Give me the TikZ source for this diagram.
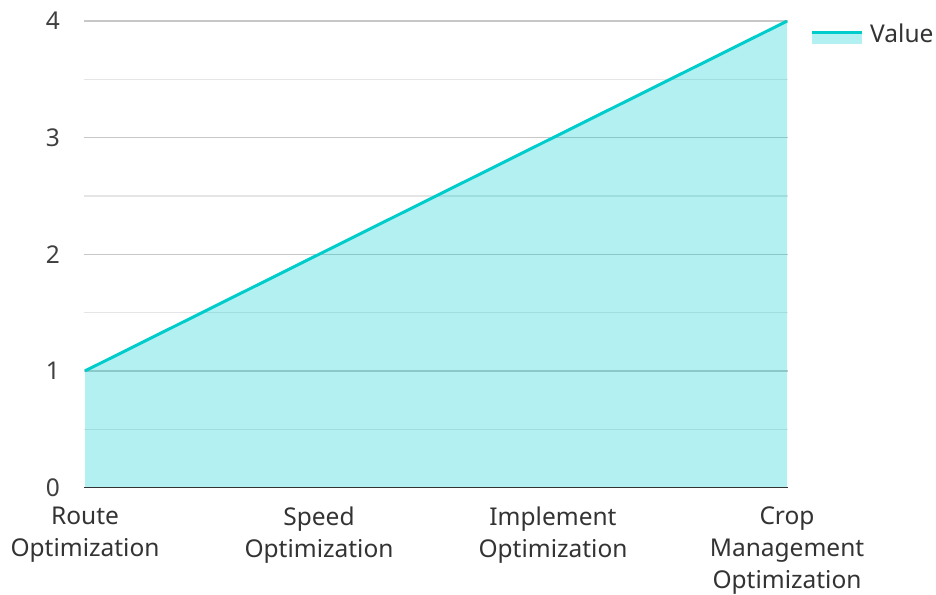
\documentclass[tikz,border=0pt]{standalone}
\usepackage{fontspec}
\setmainfont{Noto Sans}
\begin{document}
\begin{tikzpicture}[x=1pt,y=-1pt,
  ylab/.style={anchor=east,text=black!75,font=\fontsize{24.5}{29}\selectfont,inner sep=0pt},
  xlab/.style={anchor=north,text=black!80,font=\fontsize{24.5}{31.8}\selectfont,align=center,inner sep=0pt},
  major/.style={draw=black!22,line width=1.4pt},
  minor/.style={draw=black!10,line width=1.4pt}]
\useasboundingbox (0,0) rectangle (936,594);
% grid
\foreach \v in {0.5,1.5,2.5,3.5}{\draw[minor] (84,{487.5-116.6*\v}) -- (788,{487.5-116.6*\v});}
\foreach \v in {1,2,3,4}{\draw[major] (84,{487.5-116.6*\v}) -- (788,{487.5-116.6*\v});}
% data points
\coordinate (p1) at (85,{487.5-116.6*1});
\coordinate (p2) at (319,{487.5-116.6*2});
\coordinate (p3) at (553,{487.5-116.6*3});
\coordinate (p4) at (787,{487.5-116.6*4});
\coordinate (b1) at (85,487.5);
\coordinate (b4) at (787,487.5);
\fill[fill={rgb,255:red,0;green,206;blue,209},fill opacity=0.3] (b1) -- (p1) -- (p2) -- (p3) -- (p4) -- (b4) -- cycle;
\draw[draw={rgb,255:red,0;green,204;blue,204},line width=3pt,line join=round] (p1) -- (p2) -- (p3) -- (p4);
% axis
\draw[draw=black!80,line width=1.6pt] (84,487.5) -- (788,487.5);
% y labels
\node[ylab] (y0) at (60,487.5) {0};
\node[ylab] (y1) at (60,370.9) {1};
\node[ylab] (y2) at (60,254.3) {2};
\node[ylab] (y3) at (60,137.7) {3};
\node[ylab] (y4) at (60,21.1) {4};
% x labels
\node[xlab] (x1) at (85,507) {Route\\Optimization};
\node[xlab] (x2) at (319,507) {Speed\\Optimization};
\node[xlab] (x3) at (553,507) {Implement\\Optimization};
\node[xlab] (x4) at (787,507) {Crop\\Management\\Optimization};
% legend
\coordinate (la) at (812,33);
\coordinate (lb) at (862,33);
\fill[fill={rgb,255:red,0;green,206;blue,209},fill opacity=0.3] (812,33) rectangle (862,44);
\draw[draw={rgb,255:red,0;green,204;blue,204},line width=3pt] (la) -- (lb);
\node[anchor=west,inner sep=0pt,text=black!80,font=\fontsize{24.5}{29}\selectfont] (leg) at (870,33) {Value};
\end{tikzpicture}
\end{document}
